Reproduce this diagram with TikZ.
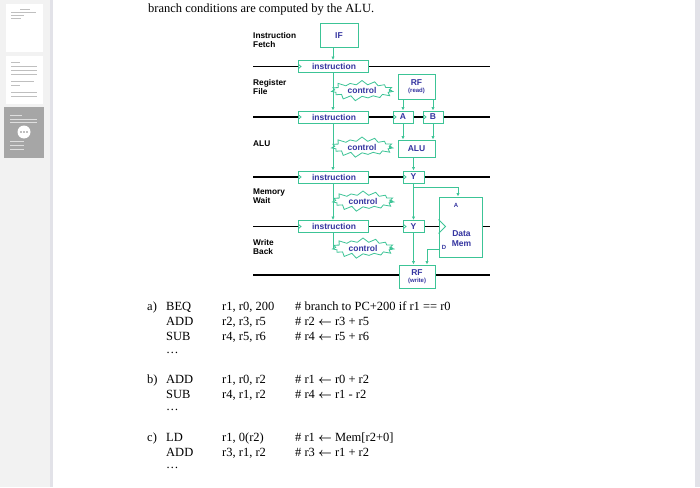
\documentclass[tikz,border=0pt]{standalone}
\usepackage{fontspec}
\usepackage{amsmath,bm}
\setmainfont{Liberation Serif}
\newfontfamily\diagfont{Liberation Sans}
\usetikzlibrary{arrows.meta,shapes.symbols,calc}
\definecolor{pipeteal}{RGB}{60,196,150}
\definecolor{labelblue}{RGB}{52,52,160}
\definecolor{sidegray}{RGB}{242,242,242}
\definecolor{splitgray}{RGB}{226,226,232}
\definecolor{thumbgray}{RGB}{166,166,166}
\tikzset{
  regline/.style={line width=1.6pt, black},
  tealbox/.style={draw=pipeteal, fill=white, line width=1pt, text=labelblue, inner sep=0pt,
    font=\diagfont\bfseries\fontsize{8.5}{9}\selectfont},
  clocked/.style={tealbox, path picture={\draw[pipeteal, line width=0.8pt]
    ([yshift=2.5pt]path picture bounding box.west) -- ++(3pt,-2.5pt) -- ++(-3pt,-2.5pt);}},
  ctrl/.style={starburst, starburst points=15, starburst point height=5pt, random starburst=60,
    draw=pipeteal, fill=white, line width=0.8pt, text=labelblue, inner xsep=5pt, inner ysep=1pt,
    font=\diagfont\bfseries\fontsize{8.5}{9}\selectfont},
  wire/.style={draw=pipeteal, line width=1pt},
  arrowwire/.style={wire, -{Latex[length=3.5pt,width=3.5pt]}},
  stagelabel/.style={font=\diagfont\bfseries\fontsize{8.3}{9}\selectfont, align=left, anchor=west, inner sep=0pt},
  memlabel/.style={text=labelblue, inner sep=0pt, font=\diagfont\bfseries\fontsize{6}{7}\selectfont},
  asmtext/.style={anchor=north west, inner sep=0pt, font=\fontsize{12.5}{15}\selectfont},
}
\pgfmathsetseed{4242}

\begin{document}
\begin{tikzpicture}[x=1pt,y=-1pt]
      \useasboundingbox (0,0) rectangle (700,487);
      % viewer frame
      \fill[white] (0,0) rectangle (700,487);
      \fill[sidegray] (0,0) rectangle (50,487);
      \fill[splitgray] (50,0) rectangle (53,487);
      \fill[splitgray] (695,0) rectangle (700,487);
      \fill[white] (6,4) rectangle (43,52);
      \fill[white] (6,56) rectangle (43,104);
      \fill[thumbgray] (4,107) rectangle (44,158);
      \draw[gray!50, line width=0.4pt] (20,9) -- (30,9) (11,12) -- (36,12) (11,15) -- (24,15) (11,18) -- (21,18);
      \draw[gray!50, line width=0.4pt] (11,62) -- (20,62) (11,66) -- (37,66) (11,70) -- (37,70) (11,74) -- (37,74)
        (11,81) -- (34,81) (11,85) -- (20,85) (11,92) -- (37,92) (11,96) -- (37,96);
      \draw[gray!25, line width=0.4pt] (10,115) -- (22,115) (10,119) -- (37,119) (10,122) -- (37,122)
        (10,141) -- (24,141) (10,145) -- (24,145) (10,149) -- (24,149);
      \fill[white] (24,132) circle (6.5);
      \fill[gray] (21,132) circle (0.8) (24,132) circle (0.8) (27,132) circle (0.8);

      \node[anchor=base west, inner sep=0pt, font=\fontsize{12.5}{15}\selectfont] at (148,13) (title)
        {branch conditions are computed by the ALU.};

      % pipeline registers
      \draw[regline] (253,66.5) -- (490,66.5);
      \draw[regline] (253,117) -- (490,117);
      \draw[regline] (253,177) -- (490,177);
      \draw[regline] (253,226.5) -- (490,226.5);
      \draw[regline] (253,275) -- (490,275);

      \node[stagelabel] at (253,40) (lblif) {Instruction\\Fetch};
      \node[stagelabel] at (253,87) (lblrf) {Register\\File};
      \node[stagelabel] at (253,144) (lblalu) {ALU};
      \node[stagelabel] at (253,196.5) (lblmem) {Memory\\Wait};
      \node[stagelabel] at (253,247) (lblwb) {Write\\Back};

      \node[tealbox, minimum width=38pt, minimum height=24pt] at (339,36) (fetch) {IF};
      \node[clocked, minimum width=70pt, minimum height=12pt] at (333,66.5) (ir1) {\hspace*{2pt}instruction};
      \node[clocked, minimum width=70pt, minimum height=12pt] at (333,117) (ir2) {\hspace*{2pt}instruction};
      \node[clocked, minimum width=70pt, minimum height=12pt] at (333,177) (ir3) {\hspace*{2pt}instruction};
      \node[clocked, minimum width=70pt, minimum height=12pt] at (333,226.5) (ir4) {\hspace*{2pt}instruction};
      \node[tealbox, align=center, minimum width=37pt, minimum height=25pt] at (416.5,86.5) (rfread)
        {RF\\[-2pt]{\fontsize{6}{6}\selectfont(read)}};
      \node[clocked, minimum width=20pt, minimum height=12pt] at (403,117) (rega) {A};
      \node[clocked, minimum width=20pt, minimum height=12pt] at (433,117) (regb) {B};
      \node[tealbox, minimum width=37pt, minimum height=17pt] at (416.5,148.5) (alu) {ALU};
      \node[clocked, minimum width=21pt, minimum height=12pt] at (413.5,177) (y1) {Y};
      \node[clocked, minimum width=21pt, minimum height=12pt] at (413.5,226.5) (y2) {Y};
      \node[tealbox, minimum width=43pt, minimum height=60pt] at (460.5,227) (dmem) {};
      \node[tealbox, align=center, minimum width=36pt, minimum height=23pt] at (417,276.5) (rfwrite)
        {RF\\[-2pt]{\fontsize{6}{6}\selectfont(write)}};
      \node[memlabel] at (456,205) (memaddr) {A};
      \node[memlabel] at (444,247) (memdata) {D};
      \node[memlabel, align=center, font=\diagfont\bfseries\fontsize{8.5}{9.5}\selectfont] at (461.5,238.5) (memname) {Data\\Mem};
      \draw[wire] ([yshift=7pt]dmem.west |- y2) -- ++(7pt,-7pt) -- ++(-7pt,-7pt);

      \node[ctrl] at (362,90.5) (ctrlrf) {control};
      \node[ctrl] at (362,147) (ctrlalu) {control};
      \node[ctrl] at (363,201) (ctrlmem) {control};
      \node[ctrl] at (363,248) (ctrlwb) {control};
      \coordinate (memout) at (398,201);
      \coordinate (wbout) at (398,248);

      \draw[arrowwire] (ir1.north |- fetch.south) -- (ir1.north);
      \draw[arrowwire] (ir1.south) -- (ir2.north);
      \draw[arrowwire] (ir2.south) -- (ir3.north);
      \draw[arrowwire] (ir3.south) -- (ir4.north);
      \draw[wire] (ir1.south |- ctrlrf) -- (ctrlrf.west);
      \draw[wire] (ir2.south |- ctrlalu) -- (ctrlalu.west);
      \draw[wire] (ir3.south |- ctrlmem) -- (ctrlmem.west);
      \draw[wire] (ir4.south) |- (ctrlwb.west);
      \draw[arrowwire, shorten >=5pt] (ctrlrf.east) -- (ctrlrf.east -| rfread.west);
      \draw[arrowwire, shorten >=5pt] (ctrlalu.east) -- (ctrlalu.east -| alu.west);
      \draw[arrowwire, shorten >=5pt] (ctrlmem.east) -- (memout);
      \draw[arrowwire, shorten >=5pt] (ctrlwb.east) -- (wbout);
      \draw[arrowwire] (rfread.south -| rega) -- (rega.north);
      \draw[arrowwire] (rfread.south -| regb) -- (regb.north);
      \draw[arrowwire] (rega.south) -- (rega.south |- alu.north);
      \draw[arrowwire] (regb.south) -- (regb.south |- alu.north);
      \draw[arrowwire] (y1.north |- alu.south) -- (y1.north);
      \draw[arrowwire] (y1.south) -- (y2.north);
      \draw[arrowwire] ([yshift=-4pt]y1.south) -| ([xshift=-2.5pt]dmem.north);
      \draw[arrowwire] (y2.south) -- (y2.south |- rfwrite.north);
      \draw[arrowwire] ([yshift=-22pt]dmem.west) -| ([xshift=10pt]rfwrite.north);

      % instruction sequences
      \node[asmtext] at (147,299.5) (seqa) {
      \begin{tabular}{@{}p{19pt}@{}p{56pt}@{}p{73pt}@{}l@{}}
      a) & BEQ & r1, r0, 200 & \# branch to PC+200 if r1 == r0\\
         & ADD & r2, r3, r5 & \# r2 $\bm{\leftarrow}$ r3 + r5\\
         & SUB & r4, r5, r6 & \# r4 $\bm{\leftarrow}$ r5 + r6\\[-2pt]
         & \dots & & \\
      \end{tabular}
      };
      \node[asmtext] at (147,373) (seqb) {
      \begin{tabular}{@{}p{19pt}@{}p{56pt}@{}p{73pt}@{}l@{}}
      b) & ADD & r1, r0, r2 & \# r1 $\bm{\leftarrow}$ r0 + r2\\
         & SUB & r4, r1, r2 & \# r4 $\bm{\leftarrow}$ r1 - r2\\[-3pt]
         & \dots & & \\
      \end{tabular}
      };
      \node[asmtext] at (147,431) (seqc) {
      \begin{tabular}{@{}p{19pt}@{}p{56pt}@{}p{73pt}@{}l@{}}
      c) & LD & r1, 0(r2) & \# r1 $\bm{\leftarrow}$ Mem[r2+0]\\
         & ADD & r3, r1, r2 & \# r3 $\bm{\leftarrow}$ r1 + r2\\[-3pt]
         & \dots & & \\
      \end{tabular}
      };
    \end{tikzpicture}
\end{document}
